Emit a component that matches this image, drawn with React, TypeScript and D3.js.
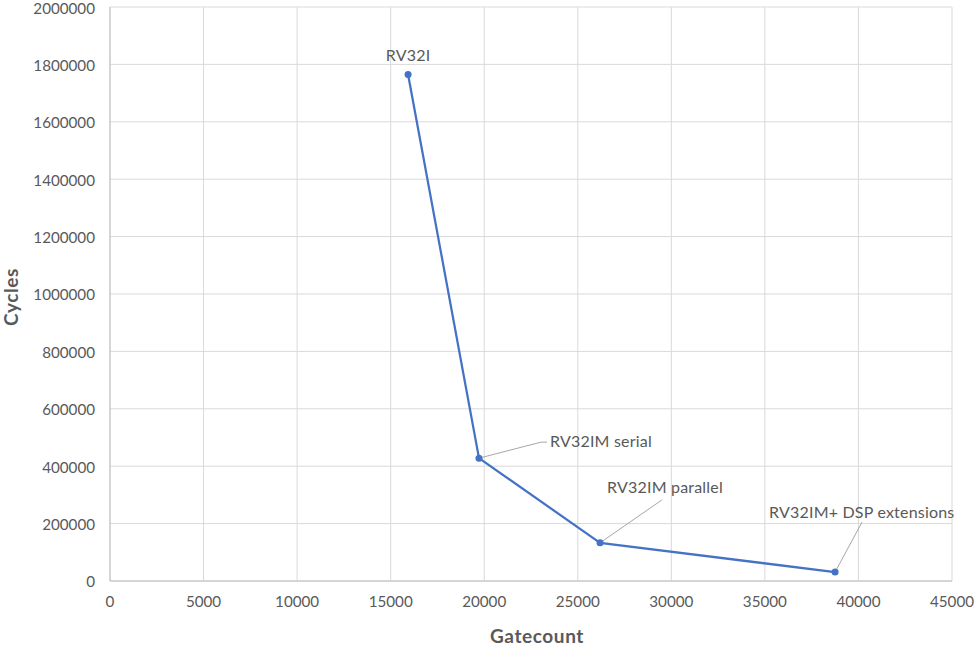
import React from "react";
import * as d3 from "d3";

// data
const configs = ["RV32I", "RV32IM serial", "RV32IM parallel", "RV32IM+ DSP extensions"];
const gatecount = [15930, 19720, 26190, 38750];
const cycles = [1765000, 428000, 133000, 31000];

const xTicks = [0, 5000, 10000, 15000, 20000, 25000, 30000, 35000, 40000, 45000];
const yTicks = [0, 200000, 400000, 600000, 800000, 1000000, 1200000, 1400000, 1600000, 1800000, 2000000];

// label placement: offset from the point to the text anchor + leader line end
const labelOffsets = [
    { dx: 0, dy: -19, anchor: "middle", leader: null as null | [number, number][] },
    { dx: 71, dy: -17, anchor: "start", leader: [[62, -16], [68, -16]] },
    { dx: 7, dy: -55, anchor: "start", leader: [[62, -43]] },
    { dx: -66, dy: -60, anchor: "start", leader: [[27, -50]] },
];

const W = 976;
const H = 648;
const M = { left: 110, right: 24, top: 7, bottom: 67 };
const FONT = "'Century Gothic', Lato, 'Open Sans', sans-serif";
const TEXT = "#595959";

/** 散佈折線圖 */
export default function App() {
    const x = d3.scaleLinear().domain([0, 45000]).range([M.left, W - M.right]);
    const y = d3.scaleLinear().domain([0, 2000000]).range([H - M.bottom, M.top]);

    const line = d3.line<number>()
        .x((d, i) => x(gatecount[i]))
        .y((d) => y(d));

    return <svg width={W} height={H} style={{ position: "fixed", left: 0, top: 0, background: "#fff" }}
        fontFamily={FONT}>
        {/* 格線 */}
        {xTicks.map(t => <line key={"gx" + t} x1={x(t)} x2={x(t)} y1={y(0)} y2={y(2000000)}
            stroke="#d9d9d9" strokeWidth={1} />)}
        {yTicks.map(t => <line key={"gy" + t} x1={x(0)} x2={x(45000)} y1={y(t)} y2={y(t)}
            stroke="#d9d9d9" strokeWidth={1} />)}
        {/* 軸線 */}
        <line x1={x(0)} x2={x(0)} y1={y(0)} y2={y(2000000)} stroke="#bfbfbf" strokeWidth={1} />
        <line x1={x(0)} x2={x(45000)} y1={y(0)} y2={y(0)} stroke="#bfbfbf" strokeWidth={1} />

        {/* 刻度文字 */}
        {yTicks.map(t => <text key={"ty" + t} x={x(0) - 15} y={Math.max(y(t) + 1, 9)} dy="0.35em" textAnchor="end"
            fontSize={15.2} fill={TEXT}>{t}</text>)}
        {xTicks.map(t => <text key={"tx" + t} x={x(t)} y={y(0) + 21} dy="0.35em" textAnchor="middle"
            fontSize={15.2} fill={TEXT}>{t}</text>)}

        {/* 軸標題 */}
        <text x={537} y={636} dy="0.35em" textAnchor="middle" fontSize={19} letterSpacing={0.6}
            fontWeight="bold" fill={TEXT}>Gatecount</text>
        <text transform={`translate(11, ${297}) rotate(-90)`} dy="0.35em" textAnchor="middle"
            fontSize={19} letterSpacing={0.6} fontWeight="bold" fill={TEXT}>Cycles</text>

        {/* 引導線 */}
        {cycles.map((c, i) => {
            const o = labelOffsets[i];
            if (!o.leader) return null;
            const px = x(gatecount[i]), py = y(c);
            const pts: [number, number][] = [[px, py], ...o.leader.map(([a, b]) => [px + a, py + b] as [number, number])];
            return <path key={"ld" + i} d={d3.line()(pts) || ""} fill="none" stroke="#a6a6a6" strokeWidth={1} />;
        })}

        {/* 折線與點 */}
        <path d={line(cycles) || ""} fill="none" stroke="#4472c4" strokeWidth={2.25} strokeLinejoin="round" />
        {cycles.map((c, i) => <circle key={"pt" + i} cx={x(gatecount[i])} cy={y(c)} r={3.5} fill="#4472c4" />)}

        {/* 資料標籤 */}
        {cycles.map((c, i) => {
            const o = labelOffsets[i];
            return <text key={"lb" + i} x={x(gatecount[i]) + o.dx} y={y(c) + o.dy} dy="0.35em"
                textAnchor={o.anchor} fontSize={16} letterSpacing={0.2} fill={TEXT}>{configs[i]}</text>;
        })}
    </svg>;
}
